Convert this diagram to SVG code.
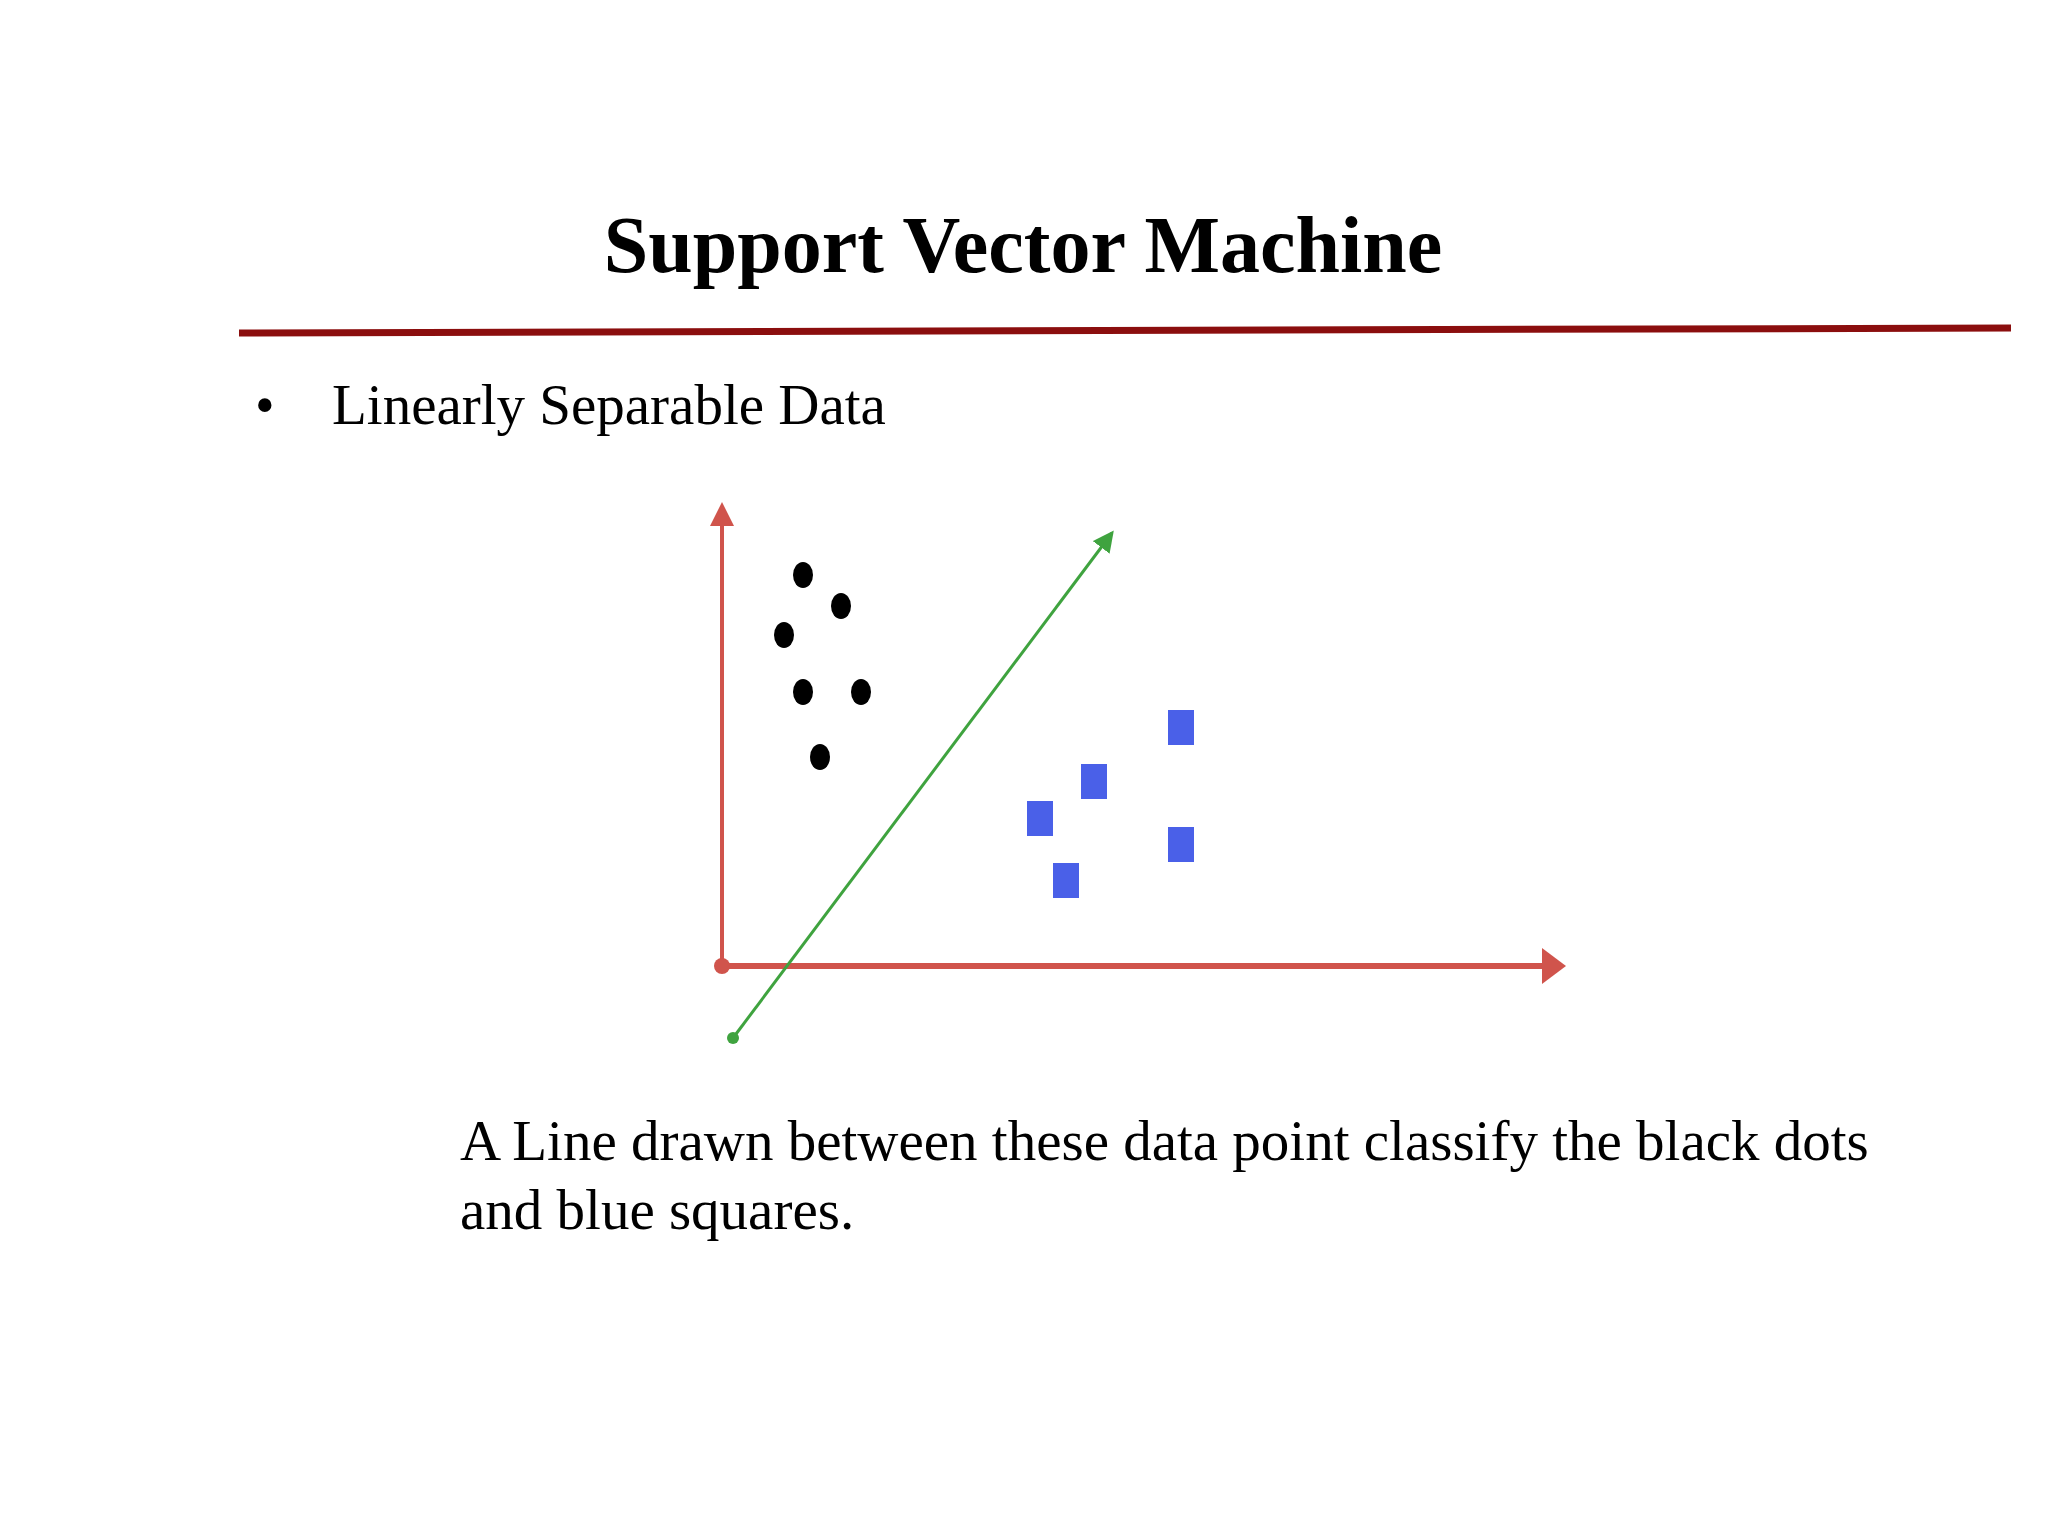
<svg xmlns="http://www.w3.org/2000/svg" width="2048" height="1536" viewBox="0 0 2048 1536">
<style>
.t{font-family:"Liberation Serif","Times New Roman",serif;fill:#000}
.dot{fill:#000}
.sq{fill:#4a60e8}
</style>
<defs>
<marker id="ra" markerWidth="6" markerHeight="6" refX="5" refY="3" orient="auto" markerUnits="strokeWidth"><path d="M0,0 L6,3 L0,6 Z" fill="#d0544c"/></marker>
<marker id="rb" markerWidth="4" markerHeight="6" refX="3" refY="3" orient="auto" markerUnits="strokeWidth"><path d="M0,0 L4,3 L0,6 Z" fill="#d0544c"/></marker>
<marker id="ga" markerWidth="7" markerHeight="7" refX="6" refY="3.5" orient="auto" markerUnits="strokeWidth"><path d="M0,0 L7,3.5 L0,7 Z" fill="#3fa33f"/></marker>
</defs>
<rect width="2048" height="1536" fill="#fff"/>
<text class="t" x="1023" y="272" font-size="80" font-weight="bold" text-anchor="middle">Support Vector Machine</text>
<line x1="239" y1="333" x2="2011" y2="328" stroke="#8b0e0e" stroke-width="7"/>
<text class="t" x="255" y="424" font-size="56">•</text>
<text class="t" x="332" y="424" font-size="57">Linearly Separable Data</text>
<g id="connectors">
<line x1="722" y1="966" x2="722" y2="506" stroke="#d0544c" stroke-width="4" marker-end="url(#ra)"/>
<line x1="722" y1="966" x2="1560" y2="966" stroke="#d0544c" stroke-width="6" marker-end="url(#rb)"/>
<circle cx="722" cy="966" r="8" fill="#d0544c"/>
<line x1="733" y1="1038" x2="1112" y2="533" stroke="#3fa33f" stroke-width="3" marker-end="url(#ga)"/>
<circle cx="733" cy="1038" r="6" fill="#3fa33f"/>
</g>
<g id="dots">
<ellipse class="dot" cx="803" cy="575" rx="10" ry="13"/>
<ellipse class="dot" cx="841" cy="606" rx="10" ry="13"/>
<ellipse class="dot" cx="784" cy="635" rx="10" ry="13"/>
<ellipse class="dot" cx="803" cy="692" rx="10" ry="13"/>
<ellipse class="dot" cx="861" cy="692" rx="10" ry="13"/>
<ellipse class="dot" cx="820" cy="757" rx="10" ry="13"/>
</g>
<g id="squares">
<rect class="sq" x="1168" y="710" width="26" height="35"/>
<rect class="sq" x="1081" y="764" width="26" height="35"/>
<rect class="sq" x="1027" y="801" width="26" height="35"/>
<rect class="sq" x="1168" y="827" width="26" height="35"/>
<rect class="sq" x="1053" y="863" width="26" height="35"/>
</g>
<text class="t" x="460" y="1160" font-size="57">A Line drawn between these data point classify the black dots</text>
<text class="t" x="460" y="1229" font-size="57">and blue squares.</text>
</svg>
